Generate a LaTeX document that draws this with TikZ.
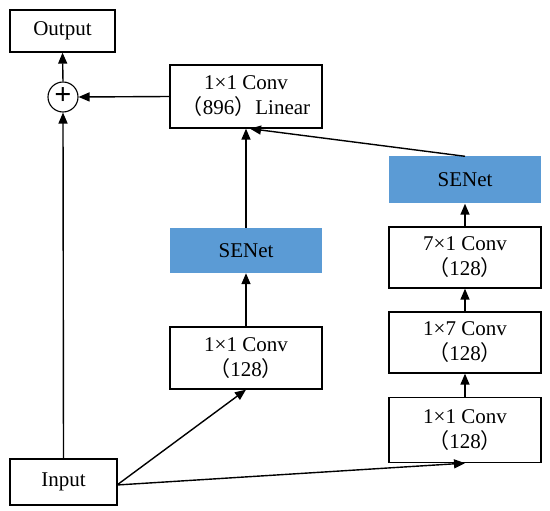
\documentclass[tikz,border=0pt]{standalone}
\usepackage{fontspec}
\setmainfont{Liberation Serif}
\newfontfamily\cjk{Noto Sans CJK SC}
\usetikzlibrary{arrows.meta}
\newcommand{\lp}{{\cjk （}}
\newcommand{\rp}{{\cjk ）}}
\begin{document}
\begin{tikzpicture}[x=1pt,y=-1pt,
  box/.style={draw,line width=1.3pt,fill=white,inner sep=0pt,align=center,
    font=\fontsize{21}{25}\selectfont},
  sebox/.style={fill={rgb,255:red,91;green,155;blue,213},inner sep=0pt,
    font=\fontsize{21}{25}\selectfont},
  arr/.style={line width=1.4pt,-{Triangle[length=11pt,width=9pt]}},
  ln/.style={line width=1.4pt}]
\useasboundingbox (0,0) rectangle (550,511);
\node[box,minimum width=105pt,minimum height=42pt] (out) at (62.5,31) {Output};
\node[draw,circle,line width=1.1pt,minimum size=30pt,inner sep=0pt,font=\fontsize{30}{30}\selectfont\bfseries] (plus) at (63,97) {\raisebox{1pt}{+}};
\node[box,minimum width=107pt,minimum height=46pt] (in) at (63.5,482) {Input};
\node[box,minimum width=152pt,minimum height=63pt] (lin) at (246,96.5) {1×1 Conv\\\lp 896\rp Linear};
\node[sebox,minimum width=152pt,minimum height=45pt] (se1) at (246,250.5) {SENet};
\node[box,minimum width=152pt,minimum height=62pt] (c1) at (246,358) {1×1 Conv\\\lp 128\rp};
\node[sebox,minimum width=152pt,minimum height=47pt] (se2) at (465,180) {SENet};
\node[box,minimum width=152pt,minimum height=61pt] (c71) at (465,257.5) {7×1 Conv\\\lp 128\rp};
\node[box,minimum width=152pt,minimum height=61pt] (c17) at (465,342.5) {1×7 Conv\\\lp 128\rp};
\node[box,minimum width=152pt,minimum height=65pt] (c11) at (465,430) {1×1 Conv\\\lp 128\rp};
\coordinate (inE) at (117,485);
\draw[arr] (in.north) -- (plus.south);
\draw[arr] (plus.north) -- (out.south);
\draw[arr] (lin.west) -- (plus.east);
\draw[arr] (inE) -- (c1.south);
\draw[arr] (inE) -- (c11.south);
\draw[arr] (c1.north) -- (se1.south);
\draw[arr] (se1.north) -- (lin.south);
\draw[arr] (c11.north) -- (c17.south);
\draw[arr] (c17.north) -- (c71.south);
\draw[arr] (c71.north) -- (se2.south);
\draw[arr] (se2.north) -- ([xshift=4pt]lin.south);
\end{tikzpicture}
\end{document}
